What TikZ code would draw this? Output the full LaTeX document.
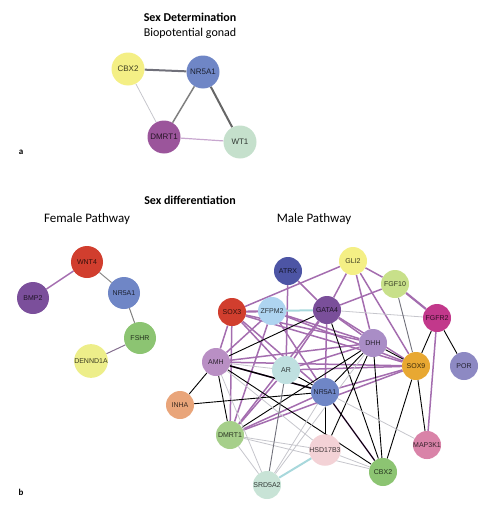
\documentclass[tikz,border=0pt]{standalone}
\usepackage{fontspec}
\setmainfont{Carlito}
\newfontfamily\genefont{Liberation Sans}
\usetikzlibrary{backgrounds}

\definecolor{cYellow}{HTML}{F4EF85}
\definecolor{cBlue}{HTML}{6F86C6}
\definecolor{cPlum}{HTML}{9B559B}
\definecolor{cMint}{HTML}{C5E0CC}
\definecolor{cRed}{HTML}{D13E2E}
\definecolor{cViolet}{HTML}{7B4F9B}
\definecolor{cGreen}{HTML}{8CC472}
\definecolor{cLemon}{HTML}{EDEE8A}
\definecolor{cNavy}{HTML}{4D55A5}
\definecolor{cSky}{HTML}{AED4F0}
\definecolor{cGata}{HTML}{7A4F9A}
\definecolor{cOrchid}{HTML}{B98FC4}
\definecolor{cAqua}{HTML}{BFE0E0}
\definecolor{cLime}{HTML}{C8E08A}
\definecolor{cMagenta}{HTML}{C2388B}
\definecolor{cLilac}{HTML}{A98DC6}
\definecolor{cGold}{HTML}{E8A832}
\definecolor{cPeri}{HTML}{8D89C3}
\definecolor{cRose}{HTML}{D983A8}
\definecolor{cBlush}{HTML}{F3D2D6}
\definecolor{cPeach}{HTML}{E9A57A}
\definecolor{cSage}{HTML}{A6CF8A}
\definecolor{cFoam}{HTML}{C8E3D6}
\definecolor{ePurple}{HTML}{A46DAF}
\definecolor{eLight}{HTML}{C6C6CC}
\definecolor{eGray}{HTML}{70707A}
\definecolor{eCyan}{HTML}{A8D8DC}

\tikzset{
    gene/.style={circle, fill=#1, text=#1!25!black, minimum size=28pt, inner sep=0pt,
        font=\genefont\fontsize{7}{8}\selectfont},
    bigGene/.style={gene=#1, minimum size=33pt, font=\genefont\fontsize{8}{9}\selectfont},
    head/.style={font=\fontsize{12}{14}\selectfont},
    path/.style={font=\fontsize{13}{15}\selectfont},
    panel/.style={font=\bfseries\fontsize{9}{10}\selectfont},
    pu/.style={draw=ePurple, line width=1.5pt},
    bk/.style={draw=black, line width=0.9pt},
    lg/.style={draw=eLight, line width=0.8pt},
    dg/.style={draw=eGray, line width=0.9pt},
    cy/.style={draw=eCyan, line width=2pt},
}

\begin{document}
\begin{tikzpicture}[x=1pt, y=-1pt]
    \useasboundingbox (0,0) rectangle (499,514);

    % titles
    \node[head, font=\bfseries\fontsize{12}{14}\selectfont] (sdTitle) at (190,17) {Sex Determination};
    \node[head] (sdSub) at (190,33) {Biopotential gonad};
    \node[panel] (lblA) at (21,152) {a};
    \node[head, font=\bfseries\fontsize{12}{14}\selectfont] (diffTitle) at (190,200) {Sex differentiation};
    \node[path] (femTitle) at (87,219) {Female Pathway};
    \node[path] (maleTitle) at (314,219) {Male Pathway};
    \node[panel] (lblB) at (21,492) {b};

    % a: biopotential gonad
    \node[bigGene=cYellow] (dCBX2) at (128,69) {CBX2};
    \node[bigGene=cBlue] (dNR5A1) at (203,72) {NR5A1};
    \node[bigGene=cPlum] (dDMRT1) at (164,137) {DMRT1};
    \node[bigGene=cMint] (dWT1) at (240,142) {WT1};

    % b: female pathway
    \node[gene=cRed, minimum size=32pt] (fWNT4) at (87,262) {WNT4};
    \node[gene=cViolet, minimum size=32pt] (fBMP2) at (33,298) {BMP2};
    \node[gene=cBlue, minimum size=32pt] (fNR5A1) at (124,293) {NR5A1};
    \node[gene=cGreen, minimum size=32pt] (fFSHR) at (140,338) {FSHR};
    \node[gene=cLemon, minimum size=32pt] (fDENND1A) at (91,361) {DENND1A};

    % b: male pathway
    \node[gene=cNavy] (mATRX) at (288,271) {ATRX};
    \node[gene=cYellow] (mGLI2) at (353,261) {GLI2};
    \node[gene=cLime] (mFGF10) at (395,284) {FGF10};
    \node[gene=cRed] (mSOX3) at (232,312) {SOX3};
    \node[gene=cSky] (mZFPM2) at (272,311) {ZFPM2};
    \node[gene=cGata] (mGATA4) at (327,310) {GATA4};
    \node[gene=cMagenta] (mFGFR2) at (437,318) {FGFR2};
    \node[gene=cLilac] (mDHH) at (373,343) {DHH};
    \node[gene=cOrchid] (mAMH) at (216,362) {AMH};
    \node[gene=cAqua] (mAR) at (286,370) {AR};
    \node[gene=cGold] (mSOX9) at (416,366) {SOX9};
    \node[gene=cPeri] (mPOR) at (464,366) {POR};
    \node[gene=cBlue] (mNR5A1) at (325,392) {NR5A1};
    \node[gene=cPeach] (mINHA) at (180,405) {INHA};
    \node[gene=cSage] (mDMRT1) at (230,435) {DMRT1};
    \node[gene=cRose] (mMAP3K1) at (427,445) {MAP3K1};
    \node[gene=cBlush] (mHSD17B3) at (325,450) {HSD17B3};
    \node[gene=cGreen] (mCBX2) at (383,472) {CBX2};
    \node[gene=cFoam] (mSRD5A2) at (267,485) {SRD5A2};

    \begin{scope}[on background layer]
        % a
        \draw[draw=eGray, line width=2pt] (dCBX2) -- (dNR5A1);
        \draw[lg] (dCBX2) -- (dDMRT1);
        \draw[draw=black!50, line width=1.5pt] (dNR5A1) -- (dDMRT1);
        \draw[draw=black!60, line width=2pt] (dNR5A1) -- (dWT1);
        \draw[draw=ePurple!60, line width=1.2pt] (dDMRT1) -- (dWT1);
        % female
        \draw[pu] (fWNT4) -- (fBMP2);
        \draw[draw=black!45, line width=1pt] (fWNT4) -- (fNR5A1);
        \draw[draw=black!50, line width=1pt] (fNR5A1) -- (fFSHR);
        \draw[draw=eGray!60!ePurple, line width=1pt] (fFSHR) -- (fDENND1A);
        % male
        \foreach \a/\b in {mSOX3/mGLI2, mSOX3/mAMH, mSOX3/mDMRT1, mSOX3/mAR,
            mSOX3/mNR5A1, mSOX3/mDHH, mSOX3/mSOX9, mATRX/mGATA4, mATRX/mAR,
            mZFPM2/mAMH, mZFPM2/mDMRT1, mZFPM2/mNR5A1, mZFPM2/mDHH, mZFPM2/mSOX9,
            mGATA4/mGLI2, mGATA4/mFGF10, mGATA4/mDHH, mGATA4/mNR5A1, mGATA4/mAR,
            mGATA4/mDMRT1, mGATA4/mSOX9, mGLI2/mFGF10, mGLI2/mDHH, mGLI2/mSOX9,
            mFGFR2/mMAP3K1, mDHH/mAMH, mDHH/mAR, mSOX9/mAMH, mSOX9/mNR5A1,
            mSOX9/mDMRT1, mSOX9/mAR, mAMH/mNR5A1, mNR5A1/mDMRT1, mAR/mDMRT1,
            mNR5A1/mCBX2}
            \draw[pu] (\a) -- (\b);
        \draw[pu, line width=2.2pt] (mSOX3) -- (mZFPM2);
        \draw[pu, line width=2.2pt] (mFGF10) -- (mFGFR2);
        \foreach \a/\b in {mGATA4/mAMH, mGATA4/mCBX2, mFGFR2/mSOX9, mFGFR2/mPOR,
            mDHH/mSOX9, mDHH/mNR5A1, mDHH/mCBX2, mDHH/mHSD17B3, mSOX9/mMAP3K1,
            mSOX9/mCBX2, mNR5A1/mINHA, mNR5A1/mHSD17B3, mNR5A1/mCBX2, mAMH/mINHA,
            mAMH/mDMRT1, mAMH/mCBX2, mAR/mNR5A1, mDMRT1/mDHH}
            \draw[bk] (\a) -- (\b);
        \draw[bk, line width=1.4pt] (mAMH) -- (mNR5A1);
        \foreach \a/\b in {mGATA4/mFGFR2, mNR5A1/mMAP3K1, mNR5A1/mSRD5A2,
            mAMH/mAR, mAMH/mHSD17B3, mAMH/mSRD5A2, mDMRT1/mHSD17B3, mDMRT1/mCBX2,
            mDMRT1/mSRD5A2, mHSD17B3/mCBX2, mDHH/mSRD5A2}
            \draw[lg] (\a) -- (\b);
        \draw[dg] (mAR) -- (mSRD5A2);
        \draw[dg] (mFGF10) -- (mSOX9);
        \draw[cy] (mZFPM2) -- (mGATA4);
        \draw[cy] (mHSD17B3) -- (mSRD5A2);
    \end{scope}
\end{tikzpicture}
\end{document}
